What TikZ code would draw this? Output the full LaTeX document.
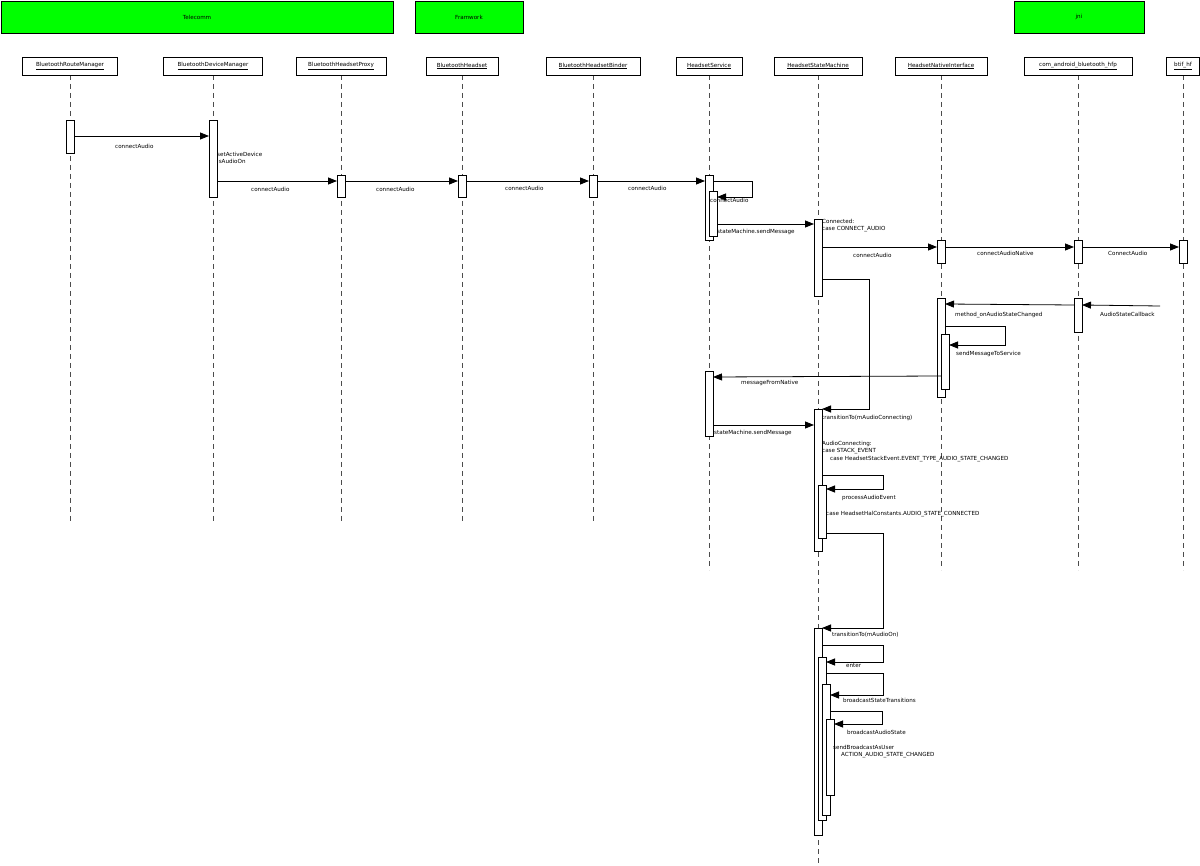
\documentclass[tikz,border=0pt]{standalone}
\usepackage{fontspec}
\setmainfont{DejaVu Sans}
\usetikzlibrary{arrows.meta}
\begin{document}
\begin{tikzpicture}[x=1pt,y=-1pt,
  txt/.style={font=\fontsize{5.6}{7.5}\selectfont,inner sep=0,anchor=west,align=left},
  hdr/.style={draw,thick,fill=white,font=\fontsize{5.6}{7}\selectfont,minimum height=18,inner sep=2},
  grp/.style={draw,thick,fill=green,font=\fontsize{5.6}{7}\selectfont,minimum height=32},
  life/.style={dash pattern=on 5pt off 4pt,gray!60!black,thin},
  act/.style={draw,thick,fill=white},
  msg/.style={thick,-{Triangle[length=9pt,width=7pt]}}]
\useasboundingbox (0,0) rectangle (1200,866);
\fill[white] (0,0) rectangle (1200,866);
% groups
\node[grp,minimum width=392] (g1) at (197,17) {Telecomm};
\node[grp,minimum width=108] (g2) at (469,17) {Framwork};
\node[grp,minimum width=130] (g3) at (1079,17) {jni};
% lifelines
\foreach \n/\x/\w/\e/\t in {brm/70/95/523/BluetoothRouteManager,bdm/213/99/523/BluetoothDeviceManager,bhp/341/90/523/BluetoothHeadsetProxy,bh/462/72/523/BluetoothHeadset,bhb/593/94/523/BluetoothHeadsetBinder,hs/709/66/570/HeadsetService,hsm/818/88/866/HeadsetStateMachine,hni/941/92/570/HeadsetNativeInterface,jn/1078/108/570/com\_android\_bluetooth\_hfp,bt/1183/33/570/btif\_hf}{
  \draw[life] (\x,75) -- (\x,\e);
  \node[hdr,minimum width=\w] (\n) at (\x,66) {\underline{\t}};
}
% activations
\foreach \x/\a/\b in {70/120/153, 213/120/197, 341/175/197, 462/175/197, 593/175/197,
  709/175/240, 713/191/236, 818/219/296, 941/240/263, 1078/240/263, 1183/240/263,
  941/298/397, 945/334/389, 1078/298/332, 709/371/436, 818/409/551, 822/485/538,
  818/628/835, 822/657/820, 826/684/815, 830/719/795}
  \draw[act] (\x-4,\a) rectangle (\x+4,\b);
% messages
\draw[msg] (74,136) -- (209,136);
\node[txt] at (115,146) {connectAudio};
\node[txt,anchor=north west] at (217,152) {setActiveDevice\\isAudioOn};
\draw[msg] (217,181) -- (337,181); \node[txt] at (251,189) {connectAudio};
\draw[msg] (345,181) -- (458,181); \node[txt] at (376,189) {connectAudio};
\draw[msg] (466,181) -- (589,181); \node[txt] at (505,188) {connectAudio};
\draw[msg] (597,181) -- (705,181); \node[txt] at (628,188) {connectAudio};
\draw[msg] (713,181) -- (752,181) -- (752,197) -- (717,197);
\node[txt] at (710,200) {connectAudio};
\draw[msg] (717,224) -- (814,224);
\node[txt] at (717,232) {stateMachine.sendMessage};
\node[txt,anchor=north west] at (822,219) {Connected:\\case CONNECT\_AUDIO};
\draw[msg] (822,247) -- (937,247); \node[txt] at (853,255) {connectAudio};
\draw[msg] (945,247) -- (1074,247); \node[txt] at (977,253) {connectAudioNative};
\draw[msg] (1082,247) -- (1179,247); \node[txt] at (1108,253) {ConnectAudio};
\draw[msg] (822,279) -- (869,279) -- (869,409) -- (822,409);
\node[txt] at (822,418) {transitionTo(mAudioConnecting)};
\draw[msg] (1160,306) -- (1082,305); \node[txt] at (1100,314) {AudioStateCallback};
\draw[msg] (1074,305) -- (945,304); \node[txt] at (955,315) {method\_onAudioStateChanged};
\draw[msg] (945,326) -- (1005,326) -- (1005,345) -- (949,345);
\node[txt] at (956,354) {sendMessageToService};
\draw[msg] (941,376) -- (713,377); \node[txt] at (741,383) {messageFromNative};
\draw[msg] (713,425) -- (814,425);
\node[txt] at (714,433) {stateMachine.sendMessage};
\node[txt,anchor=north west] at (822,441) {AudioConnecting:\\case STACK\_EVENT\\\hspace*{8pt}case HeadsetStackEvent.EVENT\_TYPE\_AUDIO\_STATE\_CHANGED};
\draw[msg] (822,475) -- (883,475) -- (883,489) -- (826,489);
\node[txt] at (842,498) {processAudioEvent};
\node[txt] at (826,514) {case HeadsetHalConstants.AUDIO\_STATE\_CONNECTED};
\draw[msg] (826,533) -- (883,533) -- (883,628) -- (822,628);
\node[txt] at (832,635) {transitionTo(mAudioOn)};
\draw[msg] (822,645) -- (883,645) -- (883,662) -- (826,662);
\node[txt] at (846,666) {enter};
\draw[msg] (826,673) -- (883,673) -- (883,695) -- (830,695);
\node[txt] at (843,700) {broadcastStateTransitions};
\draw[msg] (830,711) -- (882,711) -- (882,724) -- (834,724);
\node[txt] at (847,732) {broadcastAudioState};
\node[txt,anchor=north west] at (833,745) {sendBroadcastAsUser\\\hspace*{8pt}ACTION\_AUDIO\_STATE\_CHANGED};
\end{tikzpicture}
\end{document}
